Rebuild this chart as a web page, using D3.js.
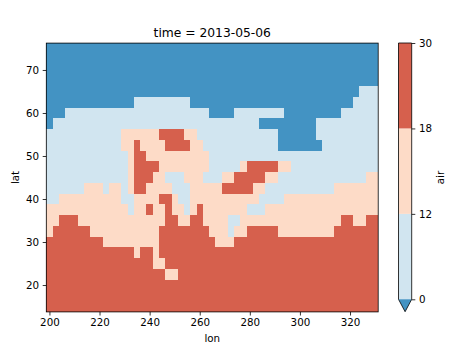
<!DOCTYPE html>
<html>
<head>
<meta charset="utf-8">
<script src="https://cdn.jsdelivr.net/npm/d3@7"></script>
<style>
  html, body { margin: 0; padding: 0; background: #fff; }
  svg { display: block; }
  text { font-family: "DejaVu Sans", sans-serif; fill: #000; }
</style>
</head>
<body>
<div id="chart-area"></div>
<script>
var title = 'time = 2013-05-06';
var lons = d3.range(200, 332.5, 2.5);
var lats = d3.range(75, 12.5, -2.5);
var lonTicks = [200, 220, 240, 260, 280, 300, 320];
var latTicks = [20, 30, 40, 50, 60, 70];
var levels = [0, 12, 18, 30];
var colors = ['#4393c3', '#d1e5f0', '#fddbc7', '#d6604d'];

// air per map cell, only the colour band can be read so each band gets a typical value
var bandValues = { b: -6, l: 6, p: 15, r: 24 };

// one string per latitude, north to south, as runs of band letter + cell count
var airRuns = [
  'b53',
  'b53',
  'b53',
  'b53',
  'b50 l3',
  'b14 l9 b26 l4',
  'b3 l23 b4 l8 b9 l6',
  'b1 l33 b9 l10',
  'l12 p6 r4 p2 l13 b6 l10',
  'l12 p2 r1 p4 r4 p2 l12 b7 l9',
  'l13 p1 r2 p10 l27',
  'l13 p1 r4 p8 l5 p1 r5 p2 l14',
  'l13 p1 r3 p2 l3 p3 l3 p2 r5 p2 l14 p2',
  'l6 p3 l1 p2 l1 p1 r2 p4 l3 p5 r5 p2 l11 p7',
  'l2 p10 l2 p4 r2 p1 l2 p11 l4 p15',
  'p13 l1 p2 r1 p2 r1 p2 l1 p1 r1 p7 l3 p18',
  'p2 r3 p14 r2 p2 r2 p4 l2 p16 r2 p2 r2',
  'p1 r6 p11 r8 p3 l1 p2 r5 p9 r7',
  'r9 p9 r9 p3 r23',
  'r14 p1 r2 p1 r35',
  'r17 p2 r34',
  'r19 p2 r32',
  'r53',
  'r53',
  'r53'
];

var svgWidth = 474, svgHeight = 355;
var plot = { left: 46.3, right: 378.2, top: 43.1, bottom: 311.9 };
var bar = { left: 398.5, right: 411.7, top: 43, bottom: 299.3, tip: 311.7 };
var tickLen = 3.6, tickPad = 3.6, fontSize = 10.3, lineWidth = 0.8, cellLon = 2.5, cellLat = 2.5;

var svg = d3.select('#chart-area')
  .append('svg')
    .attr('width', svgWidth)
    .attr('height', svgHeight);

var xScale = d3.scaleLinear()
  .domain([198.75, 331.25])
  .range([plot.left, plot.right]);

var yScale = d3.scaleLinear()
  .domain([76.25, 13.75])
  .range([plot.top, plot.bottom]);

var colorScale = d3.scaleThreshold()
  .domain(levels.slice(0, 3))
  .range(colors);

// expand the runs into cells
var cells = [];
airRuns.forEach((row, i) => {
  var j = 0;
  row.split(' ').forEach(run => {
    d3.range(+run.slice(1)).forEach(() => {
      cells.push({ lon: lons[j], lat: lats[i], air: bandValues[run[0]] });
      j++;
    });
  });
});

svg.append('g')
  .selectAll('rect')
  .data(cells)
  .enter()
  .append('rect')
    .attr('x', d => xScale(d.lon - cellLon / 2))
    .attr('y', d => yScale(d.lat + cellLat / 2))
    .attr('width', d => xScale(d.lon + cellLon / 2) - xScale(d.lon - cellLon / 2))
    .attr('height', d => yScale(d.lat - cellLat / 2) - yScale(d.lat + cellLat / 2))
    .attr('fill', d => colorScale(d.air))
    .attr('shape-rendering', 'crispEdges');

// axes
var xAxisGroup = svg.append('g')
  .attr('transform', 'translate(0, ' + plot.bottom + ')')
  .call(d3.axisBottom(xScale).tickValues(lonTicks).tickSize(tickLen).tickPadding(tickPad));

var yAxisGroup = svg.append('g')
  .attr('transform', 'translate(' + plot.left + ', 0)')
  .call(d3.axisLeft(yScale).tickValues(latTicks).tickSize(tickLen).tickPadding(tickPad));

// frame on top of the cells, like the axes spines
svg.append('rect')
  .attr('x', plot.left)
  .attr('y', plot.top)
  .attr('width', plot.right - plot.left)
  .attr('height', plot.bottom - plot.top)
  .attr('fill', 'none')
  .attr('stroke', '#000')
  .attr('stroke-width', lineWidth);

// colorbar, bands are evenly spaced whatever the level values are
var barScale = d3.scalePoint()
  .domain(levels)
  .range([bar.bottom, bar.top]);

svg.append('g')
  .selectAll('rect')
  .data(levels.slice(0, 3))
  .enter()
  .append('rect')
    .attr('x', bar.left)
    .attr('y', (d, i) => barScale(levels[i + 1]))
    .attr('width', bar.right - bar.left)
    .attr('height', (d, i) => barScale(d) - barScale(levels[i + 1]))
    .attr('fill', (d, i) => colors[i + 1]);

svg.append('path')
  .attr('d', d3.line()([
    [bar.left, bar.bottom],
    [(bar.left + bar.right) / 2, bar.tip],
    [bar.right, bar.bottom]
  ]))
  .attr('fill', colors[0]);

svg.append('path')
  .attr('d', d3.line()([
    [bar.left, bar.top],
    [bar.right, bar.top],
    [bar.right, bar.bottom],
    [(bar.left + bar.right) / 2, bar.tip],
    [bar.left, bar.bottom]
  ]) + 'Z')
  .attr('fill', 'none')
  .attr('stroke', '#000')
  .attr('stroke-width', lineWidth);

var barAxisGroup = svg.append('g')
  .attr('transform', 'translate(' + bar.right + ', 0)')
  .call(d3.axisRight(barScale).tickSize(tickLen).tickPadding(tickPad));

[xAxisGroup, yAxisGroup, barAxisGroup].forEach(group => {
  group.select('.domain').remove();
  group.selectAll('line').attr('stroke', '#000').attr('stroke-width', lineWidth);
  group.selectAll('text').attr('font-size', fontSize).attr('font-family', null).attr('fill', '#000');
});

// labels
svg.append('text')
  .attr('x', (plot.left + plot.right) / 2)
  .attr('y', 37)
  .attr('text-anchor', 'middle')
  .attr('font-size', '12.3px')
  .text(title);

svg.append('text')
  .attr('x', (plot.left + plot.right) / 2)
  .attr('y', 342)
  .attr('text-anchor', 'middle')
  .attr('font-size', fontSize)
  .text('lon');

svg.append('text')
  .attr('x', -(plot.top + plot.bottom) / 2)
  .attr('y', 19)
  .attr('text-anchor', 'middle')
  .attr('transform', 'rotate(-90)')
  .attr('font-size', fontSize)
  .text('lat');

svg.append('text')
  .attr('x', -(plot.top + plot.bottom) / 2)
  .attr('y', 444)
  .attr('text-anchor', 'middle')
  .attr('transform', 'rotate(-90)')
  .attr('font-size', fontSize)
  .text('air');
</script>
</body>
</html>
